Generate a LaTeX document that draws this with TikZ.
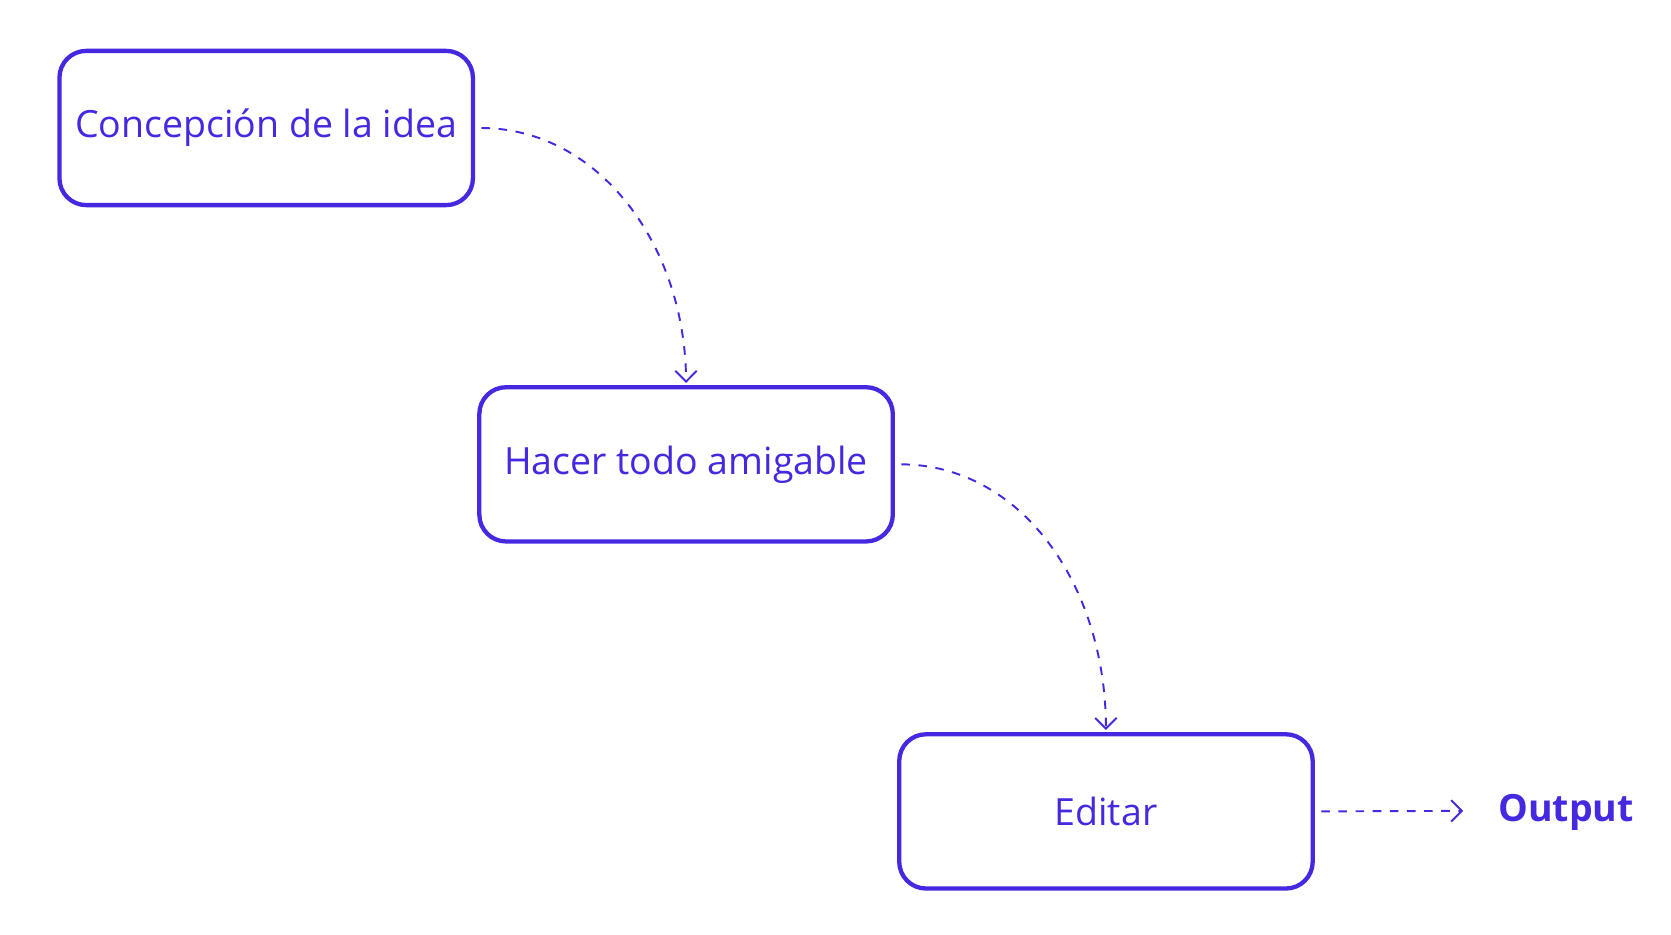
\documentclass[tikz,border=0pt]{standalone}
\usepackage{fontspec}
\setmainfont{Open Sans}
\usetikzlibrary{arrows.meta}
\definecolor{ink}{HTML}{4429E0}
\begin{document}
\begin{tikzpicture}[x=0.5pt,y=-0.5pt,
  box/.style={draw=ink,line width=2pt,rounded corners=12.5pt,minimum width=193pt,minimum height=72pt,text=ink,font=\fontsize{17.5}{20}\selectfont,inner sep=0pt},
  conn/.style={draw=ink,line width=0.9pt,dash pattern=on 4pt off 4pt,-{Straight Barb[length=5pt,width=10pt,line width=0.9pt]}}]
\useasboundingbox (0,0) rectangle (1560,872);
\node[box] (a) at (248.5,119.5) {Concepción de la idea};
\node[box] (b) at (640.5,433.5) {Hacer todo amigable};
\node[box] (c) at (1032.5,757.5) {Editar};
\node[text=ink,font=\bfseries\fontsize{17.5}{20}\selectfont] (o) at (1462,758) {Output};
\draw[conn] ([xshift=3pt]a.east) .. controls (560,120) and (640,230) .. ([yshift=1pt]b.north);
\draw[conn] ([xshift=3pt]b.east) .. controls (952,434) and (1032,544) .. ([yshift=1pt]c.north);
\draw[conn] ([xshift=3pt]c.east) -- (1366,757);
\end{tikzpicture}
\end{document}
